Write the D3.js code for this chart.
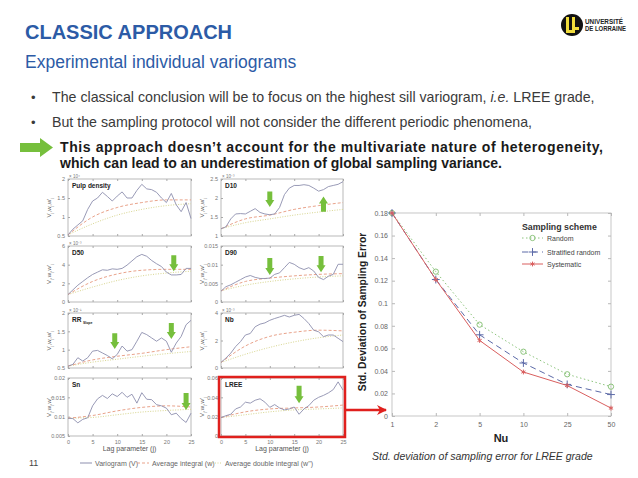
<!DOCTYPE html>
<meta charset="utf-8">
<head>
<title>Classic approach - experimental individual variograms</title>
<script src="https://cdn.jsdelivr.net/npm/d3@7/dist/d3.min.js"></script>
<style>
  body { margin: 0; background: #fff; }
  svg text { font-family: "Liberation Sans", Arial, sans-serif; }
</style>
</head>
<body>
<div id="slide"></div>
<script>
// ---- data ----
// lag values 0..25 for the experimental variograms
var lags = [0,1,2,3,4,5,6,7,8,9,10,11,12,13,14,15,16,17,18,19,20,21,22,23,24,25];
// smooth curves read every 5 lags
var lagsSmooth = [0,5,10,15,20,25];

var pulpV  = [0.53,0.68,0.79,0.9,1.2,1.42,1.5,1.65,1.54,1.42,1.55,1.66,1.5,1.5,1.7,1.86,1.74,1.72,1.65,1.5,1.38,1.62,1.32,1.14,1.38,0.96];
var pulpW  = [0.53,1.0,1.25,1.38,1.45,1.45];
var pulpW2 = [0.53,0.82,1.05,1.2,1.3,1.35];

var d10V  = [1.19,1.24,1.45,1.58,1.59,1.58,1.65,1.72,1.62,1.58,1.56,1.58,1.75,2.09,2.26,2.33,2.33,2.35,2.33,2.26,2.18,2.22,2.3,2.33,2.36,2.43];
var d10W  = [1.19,1.45,1.55,1.7,1.8,1.88];
var d10W2 = [1.19,1.35,1.45,1.55,1.63,1.7];

var d50V  = [0.8,1.3,1.8,2.2,2.6,2.95,3.2,3.45,3.4,3.55,3.5,3.6,3.95,4.4,4.85,5.1,4.9,4.45,4.1,3.8,3.2,2.9,2.9,2.95,3.6,3.6];
var d50W  = [0.8,2.2,3.0,3.4,3.5,3.5];
var d50W2 = [0.8,1.6,2.3,2.8,3.1,3.3];

var d90V  = [0.0029,0.0041,0.0046,0.0053,0.006,0.0067,0.0071,0.0066,0.0063,0.0063,0.0064,0.0074,0.0078,0.0092,0.0106,0.0101,0.0092,0.0087,0.0092,0.0083,0.0066,0.006,0.0069,0.0074,0.0101,0.0101];
var d90W  = [0.003,0.0055,0.0064,0.007,0.0074,0.0076];
var d90W2 = [0.003,0.0045,0.0055,0.0062,0.0067,0.007];

var rrV  = [0.55,0.6,0.78,0.69,0.78,0.96,0.98,0.91,0.84,0.75,0.87,1.1,0.96,1.0,1.23,1.47,1.41,1.32,1.23,1.32,1.23,0.93,1.18,1.36,1.68,1.8];
var rrW  = [0.55,0.72,0.82,0.9,1.0,1.08];
var rrW2 = [0.55,0.66,0.74,0.82,0.89,0.95];

var nbV  = [0.41,0.72,1.08,1.56,1.92,2.4,2.51,3.0,3.19,3.28,3.47,3.6,3.71,3.83,3.71,3.83,3.9,3.6,3.23,2.75,2.63,2.28,2.4,2.4,2.16,1.92];
var nbW  = [0.4,1.6,2.3,2.6,2.75,2.7];
var nbW2 = [0.4,1.0,1.5,1.9,2.2,2.4];

var snV  = [0.0096,0.0095,0.0084,0.0093,0.0097,0.0128,0.0146,0.0155,0.0147,0.0159,0.0152,0.0163,0.015,0.0158,0.0135,0.0162,0.0145,0.0144,0.0131,0.0128,0.0122,0.0105,0.0109,0.0095,0.0085,0.0109];
var snW  = [0.0096,0.0103,0.0115,0.0124,0.0128,0.0125];
var snW2 = [0.0096,0.0098,0.0105,0.0112,0.0116,0.0119];

var lreeV  = [0.019,0.021,0.0225,0.028,0.03,0.035,0.034,0.037,0.0385,0.035,0.0296,0.0325,0.029,0.027,0.028,0.03,0.0225,0.028,0.0314,0.037,0.04,0.042,0.0446,0.048,0.056,0.0475];
var lreeW  = [0.019,0.025,0.028,0.029,0.03,0.032];
var lreeW2 = [0.019,0.022,0.025,0.027,0.028,0.029];

// y ranges and ticks of the small panels
var panelNames   = ["Pulp density","D10","D50","D90","RR","Nb","Sn","LREE"];
var panelDomains = [[0.5,2],[1,2.5],[0,6],[0,0.015],[0.5,2],[0,4],[0.005,0.02],[0,0.06]];
var panelTicks   = [[0.5,1,1.5,2],[1,1.5,2,2.5],[0,2,4,6],[0,0.005,0.01,0.015],[0.5,1,1.5,2],[0,2,4],[0.005,0.01,0.015,0.02],[0,0.02,0.04,0.06]];
var panelExp     = ["× 10⁴","× 10⁻³","× 10⁻³","","× 10⁻¹","× 10⁻³","",""];
var panelSeries  = [[pulpV,pulpW,pulpW2],[d10V,d10W,d10W2],[d50V,d50W,d50W2],[d90V,d90W,d90W2],
                    [rrV,rrW,rrW2],[nbV,nbW,nbW2],[snV,snW,snW2],[lreeV,lreeW,lreeW2]];
var xTicks = [0,5,10,15,20,25];

// green arrows: panel index, lag, from value, to value (tip)
var arrowPanel = [2,4,4,6,1,1,3,3,7];
var arrowLag   = [21.5,9.5,21,24,10,21,10,20.5,16];
var arrowFrom  = [5.0,1.45,1.73,0.0161,2.17,1.64,0.0118,0.0123,0.052];
var arrowTo    = [3.3,1.02,1.29,0.0117,1.76,2.04,0.0072,0.008,0.034];

// right chart: std. deviation of sampling error
var nuLabels   = ["1","2","5","10","25","50"];
var randomSd   = [0.18,0.128,0.081,0.057,0.037,0.026];
var stratSd    = [0.18,0.121,0.072,0.047,0.028,0.019];
var systemSd   = [0.18,0.121,0.067,0.039,0.027,0.007];
var schemeNames = ["Random","Stratified random","Systematic"];
var sdTicks = [0,0.02,0.04,0.06,0.08,0.1,0.12,0.14,0.16,0.18];

// ---- drawing ----
var width = 638, height = 478;
var svg = d3.select("#slide").append("svg")
    .attr("width", width).attr("height", height);

var blue = "#2c5ba6";
var textGray = "#3a3a3a";
var green = "#76bf3c";

// title
svg.append("text").attr("x", 25).attr("y", 39)
   .attr("font-size", 20).attr("font-weight", "bold").attr("fill", blue)
   .text("CLASSIC APPROACH");
svg.append("text").attr("x", 25).attr("y", 68)
   .attr("font-size", 17.5).attr("fill", blue)
   .text("Experimental individual variograms");

// logo
var logo = svg.append("g");
logo.append("circle").attr("cx", 572).attr("cy", 25).attr("r", 11).attr("fill", "#111");
logo.append("path").attr("d", "M566,17 L569,17 L569,30 L575,30 L575,33 L566,33 Z").attr("fill", "#f0dc3c");
logo.append("path").attr("d", "M572,17 L575,17 L575,27 L579,27 L579,30 L572,30 Z").attr("fill", "#f0dc3c");
logo.append("text").attr("x", 585).attr("y", 23.5).attr("font-size", 6.5).attr("font-weight", "bold").attr("fill", "#222")
    .attr("textLength", 38).attr("lengthAdjust", "spacingAndGlyphs").text("UNIVERSITÉ");
logo.append("text").attr("x", 585).attr("y", 31).attr("font-size", 6.5).attr("font-weight", "bold").attr("fill", "#222")
    .attr("textLength", 41).attr("lengthAdjust", "spacingAndGlyphs").text("DE LORRAINE");

// bullets
var b1 = svg.append("text").attr("x", 52).attr("y", 102).attr("font-size", 14.2).attr("fill", textGray);
b1.append("tspan").text("The classical conclusion will be to focus on the highest sill variogram, ");
b1.append("tspan").attr("font-style", "italic").text("i.e.");
b1.append("tspan").text(" LREE grade,");
svg.append("text").attr("x", 52).attr("y", 127).attr("font-size", 14.2).attr("fill", textGray)
   .text("But the sampling protocol will not consider the different periodic phenomena,");
[102, 127].forEach(function (y) {
  svg.append("text").attr("x", 31).attr("y", y).attr("font-size", 13).attr("fill", textGray).text("•");
});

// green block arrow + bold conclusion
svg.append("path")
   .attr("d", "M20,143 L40,143 L40,138 L53,147.5 L40,157 L40,152 L20,152 Z")
   .attr("fill", green);
svg.append("text").attr("x", 60).attr("y", 152).attr("font-size", 14).attr("font-weight", "bold")
   .attr("fill", "#1a1a1a").attr("textLength", 543).attr("lengthAdjust", "spacing")
   .text("This approach doesn’t account for the multivariate nature of heterogeneity,");
svg.append("text").attr("x", 60).attr("y", 168).attr("font-size", 14).attr("font-weight", "bold")
   .attr("fill", "#1a1a1a")
   .text("which can lead to an underestimation of global sampling variance.");

// ---- small multiples ----
var colX = [[68,191],[221,343]];
var rowY = [[179,236],[246,302],[313,368],[378,436]];
var vColor = "#8d8fae", wColor = "#e9a38b", w2Color = "#d8d690";
var fmt = function (d) { return String(+d.toFixed(4)); };

var panelScales = [];
panelNames.forEach(function (name, i) {
  var col = i % 2, row = Math.floor(i / 2);
  var x = d3.scaleLinear().domain([0, 25]).range(colX[col]);
  var y = d3.scaleLinear().domain(panelDomains[i]).range([rowY[row][1], rowY[row][0]]);
  panelScales.push({x: x, y: y});
  var g = svg.append("g");

  g.append("rect").attr("x", colX[col][0]).attr("y", rowY[row][0])
   .attr("width", colX[col][1] - colX[col][0]).attr("height", rowY[row][1] - rowY[row][0])
   .attr("fill", "#fff").attr("stroke", "#a8a8a8").attr("stroke-width", 0.8);

  // ticks inside box
  var ax = g.append("g").attr("transform", "translate(0," + rowY[row][1] + ")")
    .call(d3.axisBottom(x).tickValues(xTicks).tickSize(-2).tickFormat(row === 3 ? fmt : ""));
  var axTop = g.append("g").attr("transform", "translate(0," + rowY[row][0] + ")")
    .call(d3.axisTop(x).tickValues(xTicks).tickSize(-2).tickFormat(""));
  var ay = g.append("g").attr("transform", "translate(" + colX[col][0] + ",0)")
    .call(d3.axisLeft(y).tickValues(panelTicks[i]).tickSize(-2).tickFormat(fmt));
  [ax, axTop, ay].forEach(function (a) {
    a.select(".domain").remove();
    a.selectAll("line").attr("stroke", "#a8a8a8");
    a.selectAll("text").attr("font-size", 5.5).attr("fill", "#777");
  });
  ay.selectAll("text").attr("x", -3);
  ax.selectAll("text").attr("y", 4);

  if (panelExp[i]) {
    g.append("text").attr("x", colX[col][0] + 1).attr("y", rowY[row][0] - 1.5)
     .attr("font-size", 4.5).attr("fill", "#777").text(panelExp[i]);
  }

  // y label
  var yl = g.append("text").attr("font-size", 6).attr("fill", "#555")
    .attr("text-anchor", "middle")
    .attr("transform", "translate(" + (colX[col][0] - 17) + "," + ((rowY[row][0] + rowY[row][1]) / 2) + ") rotate(-90)");
  yl.append("tspan").text("V");
  yl.append("tspan").attr("font-size", 4).attr("dy", 1.5).text("j");
  yl.append("tspan").attr("dy", -1.5).text(",w");
  yl.append("tspan").attr("font-size", 4).attr("dy", 1.5).text("j");
  yl.append("tspan").attr("dy", -1.5).text(",w'");
  yl.append("tspan").attr("font-size", 4).attr("dy", 1.5).text("j");

  var s = panelSeries[i];
  var lineV = d3.line().x(function (d, k) { return x(lags[k]); }).y(function (d) { return y(d); });
  var lineS = d3.line().curve(d3.curveMonotoneX)
    .x(function (d, k) { return x(lagsSmooth[k]); }).y(function (d) { return y(d); });

  g.append("path").attr("d", lineS(s[2])).attr("fill", "none")
   .attr("stroke", w2Color).attr("stroke-width", 1).attr("stroke-dasharray", "1,1.5");
  g.append("path").attr("d", lineS(s[1])).attr("fill", "none")
   .attr("stroke", wColor).attr("stroke-width", 1).attr("stroke-dasharray", "3,2");
  g.append("path").attr("d", lineV(s[0])).attr("fill", "none")
   .attr("stroke", vColor).attr("stroke-width", 0.9);

  // panel title
  var t = g.append("text").attr("x", colX[col][0] + 4).attr("y", rowY[row][0] + 9)
    .attr("font-size", 6.5).attr("font-weight", "bold").attr("fill", "#222").text(name);
  if (name === "RR") {
    t.append("tspan").attr("font-size", 3.5).attr("dy", 2).attr("dx", 1.5).text("Slope");
  }

  if (row === 3) {
    g.append("text").attr("x", (colX[col][0] + colX[col][1]) / 2).attr("y", 451)
     .attr("text-anchor", "middle").attr("font-size", 7).attr("fill", "#555")
     .text("Lag parameter (j)");
  }
});

// green indicator arrows
arrowPanel.forEach(function (p, k) {
  var sc = panelScales[p];
  var cx = sc.x(arrowLag[k]);
  var y0 = sc.y(arrowFrom[k]), y1 = sc.y(arrowTo[k]);
  var dir = y1 > y0 ? 1 : -1;
  var head = 7 * dir, hw = 4.5, sw = 2.5;
  var pts = [[cx - sw, y0], [cx + sw, y0], [cx + sw, y1 - head], [cx + hw, y1 - head],
             [cx, y1], [cx - hw, y1 - head], [cx - sw, y1 - head]];
  svg.append("path").attr("d", "M" + pts.join("L") + "Z").attr("fill", green);
});

// shared legend below panels
var legY = 463;
var legItems = [
  {x: 80, label: "Variogram (V)", color: vColor, dash: null},
  {x: 137, label: "Average integral (w)", color: wColor, dash: "3,2"},
  {x: 210, label: "Average double integral (w'')", color: w2Color, dash: "1,1.5"}
];
legItems.forEach(function (d) {
  svg.append("line").attr("x1", d.x).attr("x2", d.x + 12).attr("y1", legY).attr("y2", legY)
     .attr("stroke", d.color).attr("stroke-width", 1).attr("stroke-dasharray", d.dash);
  svg.append("text").attr("x", d.x + 15).attr("y", legY + 2.5).attr("font-size", 7).attr("fill", "#666").text(d.label);
});

svg.append("text").attr("x", 29).attr("y", 466).attr("font-size", 9).attr("fill", "#444").text("11");

// red highlight box and connector
svg.append("rect").attr("x", 219).attr("y", 377).attr("width", 126).attr("height", 60)
   .attr("fill", "none").attr("stroke", "#e0201d").attr("stroke-width", 2.5);
svg.append("defs").append("marker").attr("id", "redhead")
   .attr("viewBox", "0 0 10 10").attr("refX", 9).attr("refY", 5)
   .attr("markerWidth", 4).attr("markerHeight", 4).attr("orient", "auto")
   .append("path").attr("d", "M0,0 L10,5 L0,10 L3,5 Z").attr("fill", "#e0201d");
svg.append("line").attr("x1", 345).attr("x2", 386).attr("y1", 410).attr("y2", 410)
   .attr("stroke", "#e0201d").attr("stroke-width", 2.5).attr("marker-end", "url(#redhead)");

// ---- right chart ----
var rx = d3.scalePoint().domain(nuLabels).range([392, 611]);
var ry = d3.scaleLinear().domain([0, 0.18]).range([416, 213]);
var rg = svg.append("g");
rg.append("rect").attr("x", 392).attr("y", 213).attr("width", 219).attr("height", 203)
  .attr("fill", "none").attr("stroke", "#b8b8b8").attr("stroke-width", 0.8);

var rax = rg.append("g").attr("transform", "translate(0,416)")
  .call(d3.axisBottom(rx).tickSize(-3));
var raxT = rg.append("g").attr("transform", "translate(0,213)")
  .call(d3.axisTop(rx).tickSize(-3).tickFormat(""));
var ray = rg.append("g").attr("transform", "translate(392,0)")
  .call(d3.axisLeft(ry).tickValues(sdTicks).tickSize(-3).tickFormat(fmt));
var rayR = rg.append("g").attr("transform", "translate(611,0)")
  .call(d3.axisRight(ry).tickValues(sdTicks).tickSize(-3).tickFormat(""));
[rax, raxT, ray, rayR].forEach(function (a) {
  a.select(".domain").remove();
  a.selectAll("line").attr("stroke", "#b8b8b8");
  a.selectAll("text").attr("font-size", 7).attr("fill", "#666");
});
rax.selectAll("text").attr("y", 6);
ray.selectAll("text").attr("x", -4);

rg.append("text").attr("x", 501).attr("y", 442).attr("text-anchor", "middle")
  .attr("font-size", 11).attr("font-weight", "bold").attr("fill", "#222").text("Nu");
rg.append("text").attr("transform", "translate(366,312) rotate(-90)").attr("text-anchor", "middle")
  .attr("font-size", 10.3).attr("font-weight", "bold").attr("fill", "#222")
  .text("Std. Deviation of Sampling Error");

var schemes = [
  {vals: randomSd, color: "#8cc47c", dash: "1.5,2.5", sym: d3.symbolCircle, size: 22},
  {vals: stratSd, color: "#5c6aa8", dash: "6,4", sym: d3.symbolPlus, size: 22},
  {vals: systemSd, color: "#d95f5f", dash: null, sym: d3.symbolAsterisk, size: 16}
];
var rline = d3.line().x(function (d, k) { return rx(nuLabels[k]); }).y(function (d) { return ry(d); });
schemes.forEach(function (s) {
  rg.append("path").attr("d", rline(s.vals)).attr("fill", "none")
    .attr("stroke", s.color).attr("stroke-width", 1).attr("stroke-dasharray", s.dash);
  rg.selectAll(null).data(s.vals).enter().append("path")
    .attr("transform", function (d, k) { return "translate(" + rx(nuLabels[k]) + "," + ry(d) + ")"; })
    .attr("d", d3.symbol().type(s.sym).size(s.size))
    .attr("fill", "none").attr("stroke", s.color).attr("stroke-width", 1);
});

// legend of right chart
rg.append("text").attr("x", 522).attr("y", 230).attr("font-size", 8.8).attr("font-weight", "bold")
  .attr("fill", "#333").text("Sampling scheme");
var legRowY = [238, 252, 264];
schemes.forEach(function (s, k) {
  rg.append("line").attr("x1", 522).attr("x2", 543).attr("y1", legRowY[k]).attr("y2", legRowY[k])
    .attr("stroke", s.color).attr("stroke-width", 1).attr("stroke-dasharray", s.dash);
  rg.append("path").attr("transform", "translate(532.5," + legRowY[k] + ")")
    .attr("d", d3.symbol().type(s.sym).size(s.size))
    .attr("fill", "none").attr("stroke", s.color).attr("stroke-width", 1);
  rg.append("text").attr("x", 547).attr("y", legRowY[k] + 2.5).attr("font-size", 7)
    .attr("fill", "#444").text(schemeNames[k]);
});

svg.append("text").attr("x", 372).attr("y", 460).attr("font-size", 10.5).attr("font-style", "italic")
   .attr("fill", "#333").text("Std. deviation of sampling error for LREE grade");
</script>
</body>
</html>
